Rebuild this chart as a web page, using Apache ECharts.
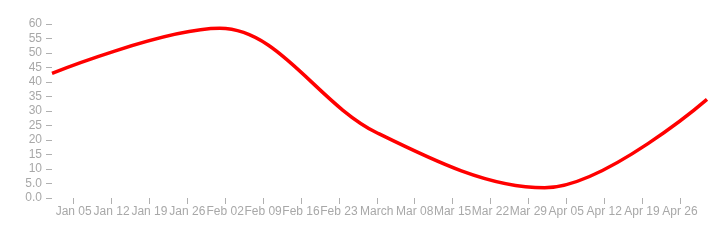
<!DOCTYPE html>
<html>
<head>
<meta charset="utf-8">
<script src="https://cdn.jsdelivr.net/npm/echarts@6/dist/echarts.min.js"></script>
<style>
html,body{margin:0;padding:0;background:#fff;}
#chart{width:726px;height:240px;}
</style>
</head>
<body>
<div id="chart"></div>
<script>
const dates = ['2020-01-01', '2020-02-01', '2020-03-01', '2020-04-01', '2020-05-01'];
const values = [43, 58.5, 22.5, 3.5, 34];
const xTickDates = ['2020-01-05','2020-01-12','2020-01-19','2020-01-26','2020-02-02','2020-02-09','2020-02-16','2020-02-23','2020-03-01','2020-03-08','2020-03-15','2020-03-22','2020-03-29','2020-04-05','2020-04-12','2020-04-19','2020-04-26'];
const xTickLabels = ['Jan 05','Jan 12','Jan 19','Jan 26','Feb 02','Feb 09','Feb 16','Feb 23','March','Mar 08','Mar 15','Mar 22','Mar 29','Apr 05','Apr 12','Apr 19','Apr 26'];
const yTickValues = [0,5,10,15,20,25,30,35,40,45,50,55,60];
const yTickLabels = ['0.0','5.0','10','15','20','25','30','35','40','45','50','55','60'];

const ts = s => { const p = s.split('-').map(Number); return Date.UTC(p[0], p[1]-1, p[2]); };
const xTickTs = xTickDates.map(ts);
const labelMap = {};
xTickTs.forEach((t, i) => { labelMap[t] = xTickLabels[i]; });
const yLabelMap = {};
yTickValues.forEach((v, i) => { yLabelMap[v] = yTickLabels[i]; });

const chart = echarts.init(document.getElementById('chart'), null, {renderer: 'canvas'});
const textColor = '#a8a8a8';
chart.setOption({
  animation: false,
  grid: {left: 52, right: 19, top: 24, bottom: 42, containLabel: false},
  xAxis: {
    type: 'value',
    min: ts(dates[0]),
    max: ts(dates[dates.length-1]),
    offset: 0,
    axisLine: {show: false},
    axisTick: {show: true, length: 6, customValues: xTickTs, lineStyle: {color: '#b0b0b0', width: 1}},
    axisLabel: {
      customValues: xTickTs,
      margin: 8,
      color: textColor,
      fontFamily: 'Liberation Sans, Arial, sans-serif',
      fontSize: 12,
      hideOverlap: false,
      showMinLabel: true,
      showMaxLabel: true,
      formatter: v => labelMap[v] || ''
    },
    splitLine: {show: false}
  },
  yAxis: {
    type: 'value',
    min: 0,
    max: 60,
    interval: 5,
    axisLine: {show: false},
    axisTick: {show: true, length: 6, lineStyle: {color: '#b0b0b0', width: 1}},
    axisLabel: {
      margin: 10,
      color: textColor,
      fontFamily: 'Liberation Sans, Arial, sans-serif',
      fontSize: 12,
      formatter: v => yLabelMap[v] !== undefined ? yLabelMap[v] : String(v)
    },
    splitLine: {show: false}
  },
  series: [{
    type: 'line',
    data: dates.map((d, i) => [ts(d), values[i]]),
    smooth: 0.35,
    showSymbol: false,
    symbol: 'none',
    lineStyle: {color: '#ff0000', width: 3.5}
  }]
});
</script>
</body>
</html>
